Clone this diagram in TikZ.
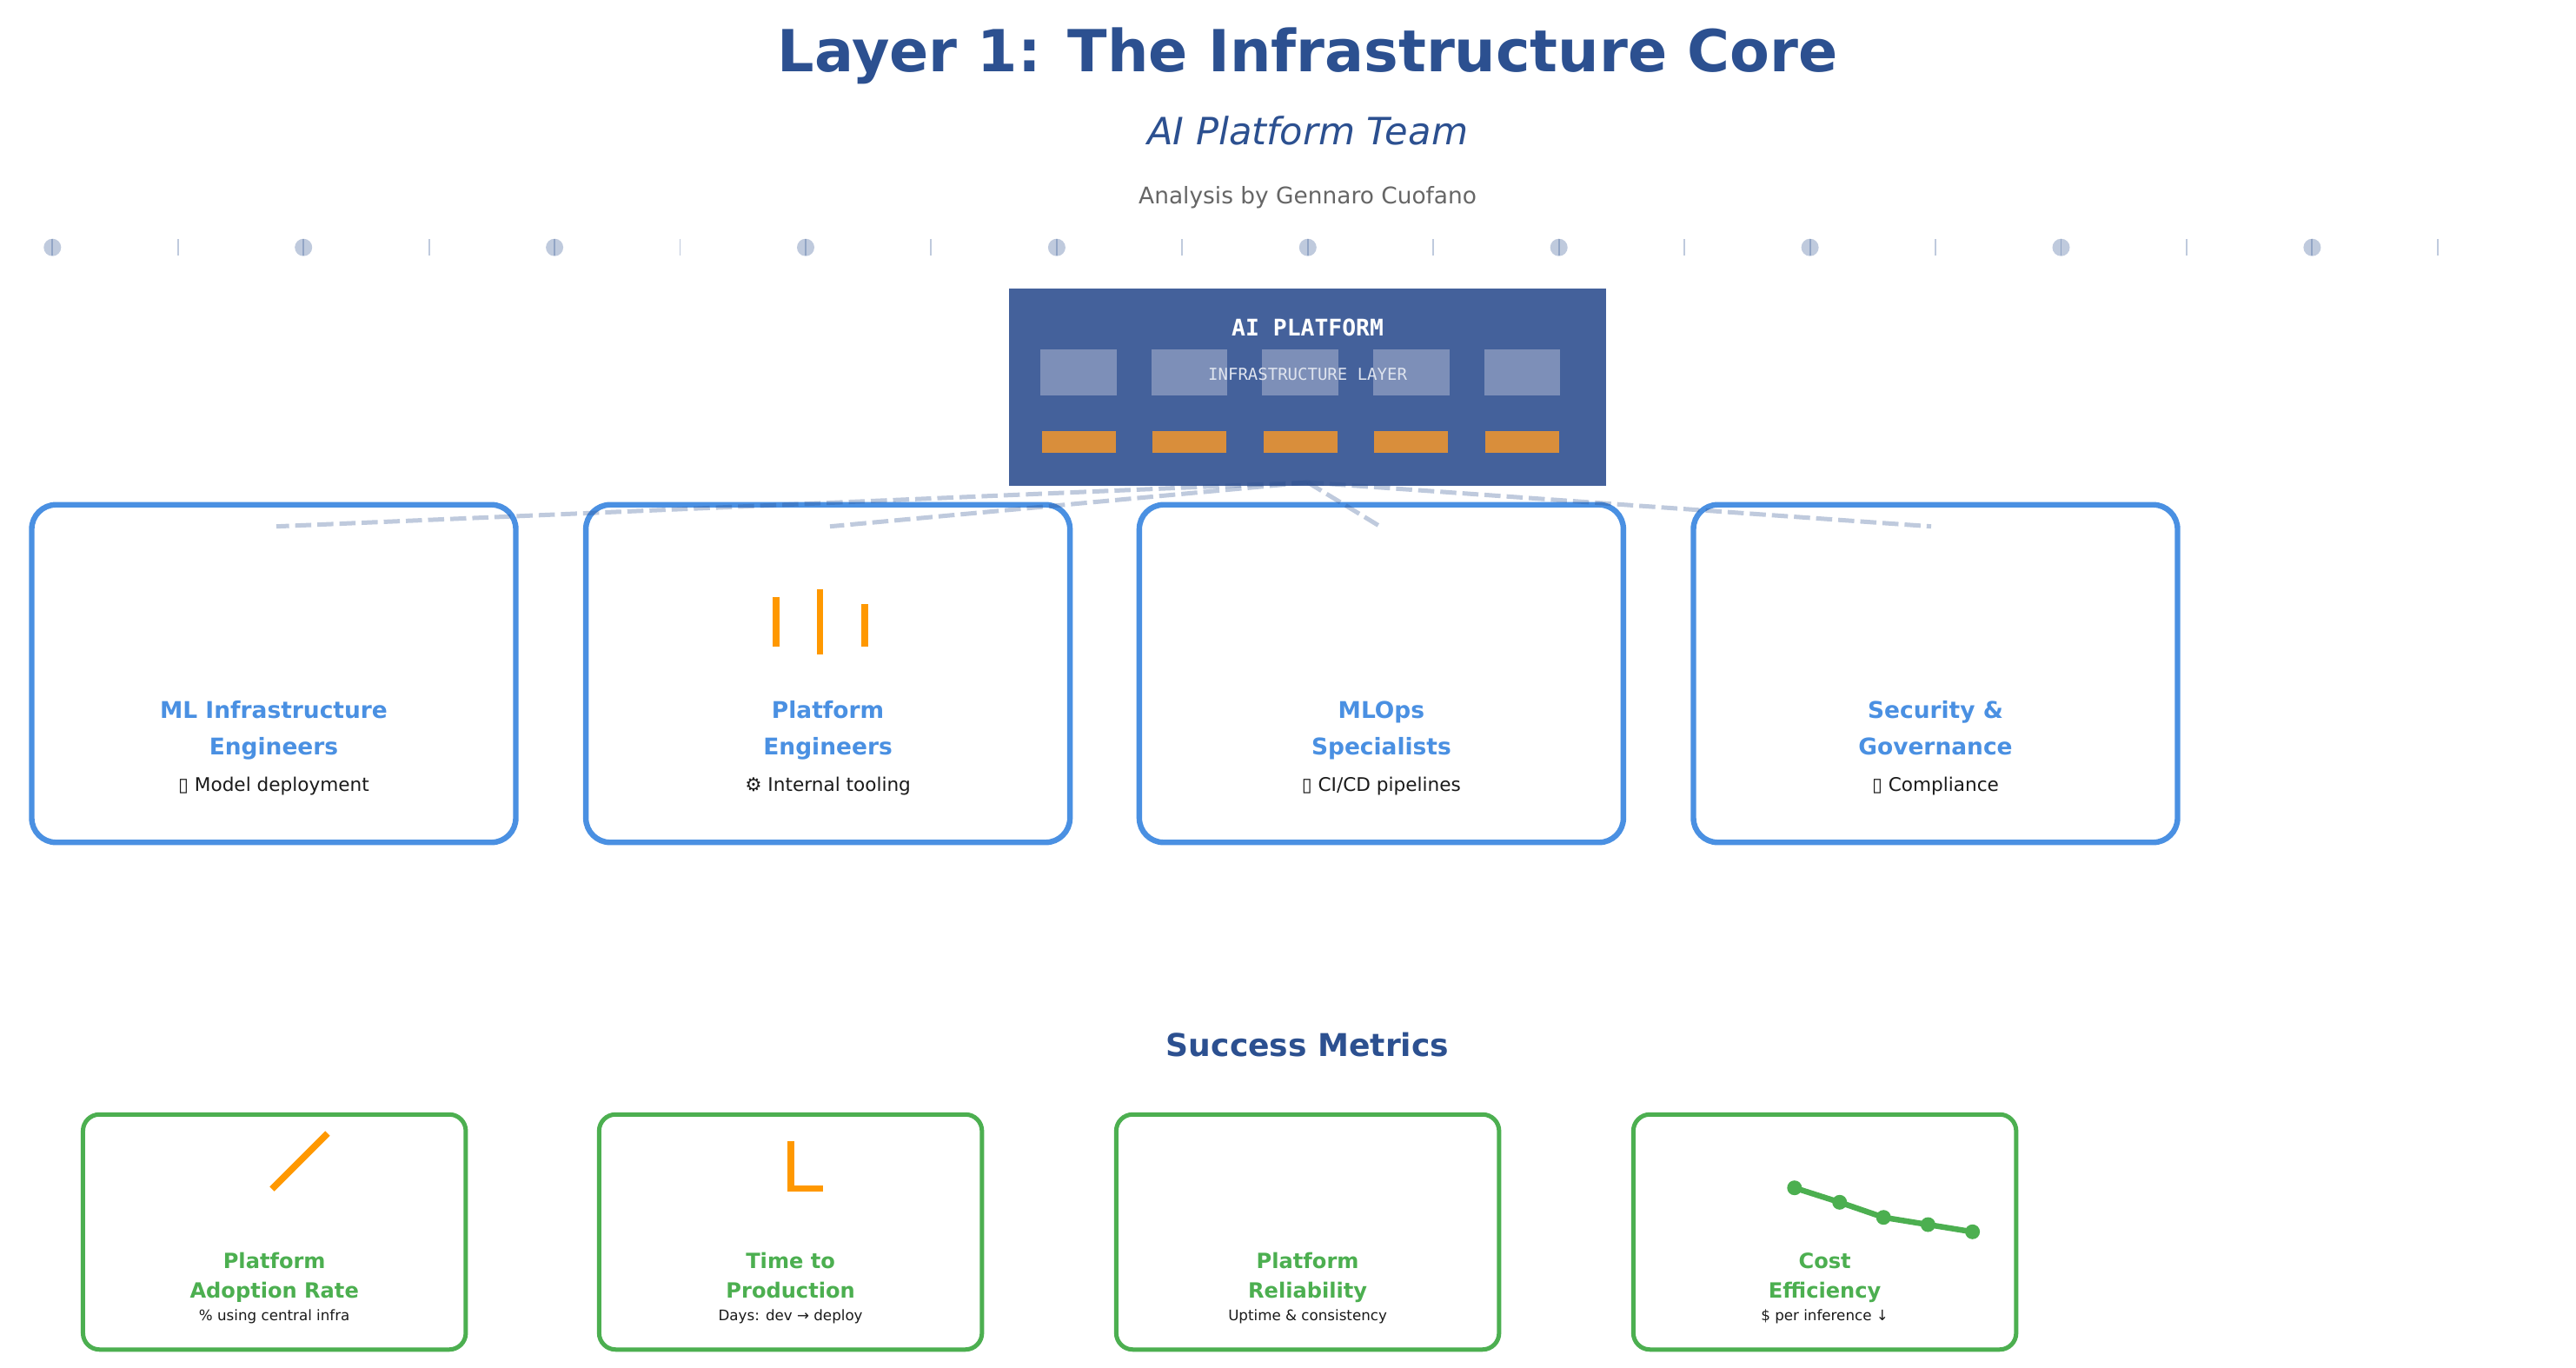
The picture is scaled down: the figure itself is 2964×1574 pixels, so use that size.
\documentclass[tikz,border=0pt]{standalone}
\usepackage{fontspec}
\setmainfont{DejaVu Sans}
\newfontfamily\dvmono{DejaVu Sans Mono}
\definecolor{navy}{HTML}{2C5090}
\definecolor{platblue}{HTML}{44619B}
\definecolor{slotblue}{HTML}{7D8FB8}
\definecolor{slotorange}{HTML}{D98E3B}
\definecolor{cardblue}{HTML}{4A90E2}
\definecolor{cardgreen}{HTML}{4CAF50}
\definecolor{accent}{HTML}{FF9800}
\definecolor{greytext}{HTML}{666666}
\definecolor{inktext}{HTML}{1A1A1A}
\definecolor{subwhite}{HTML}{DFE4EF}
\newcommand{\fs}[1]{\fontsize{#1pt}{#1pt}\selectfont}
\tikzset{
  x=1pt,y=-1pt,
  lbl/.style={anchor=base,inner sep=0pt,outer sep=0pt},
  rolecard/.style={draw=cardblue,line width=6.4pt,fill=white,rounded corners=28pt,minimum width=557pt,minimum height=388.5pt,inner sep=0pt,outer sep=0pt},
  metriccard/.style={draw=cardgreen,line width=5pt,fill=white,rounded corners=19pt,minimum width=440.5pt,minimum height=270.5pt,inner sep=0pt,outer sep=0pt},
  roletitle/.style={lbl,text=cardblue,font=\fs{26.45}\bfseries},
  rolesub/.style={lbl,text=inktext,font=\fs{21.6}},
  metrictitle/.style={lbl,text=cardgreen,font=\fs{24.1}\bfseries},
  metricsub/.style={lbl,text=inktext,font=\fs{16.7}},
  slot/.style={fill=slotblue,minimum width=87.5pt,minimum height=53pt,inner sep=0pt,outer sep=0pt},
  slotbar/.style={fill=slotorange,minimum width=85pt,minimum height=25.3pt,inner sep=0pt,outer sep=0pt},
  wire/.style={draw=navy,draw opacity=.3,line width=5pt,dash pattern=on 18.5pt off 7pt},
  patdot/.style={circle,fill=navy,fill opacity=.3,minimum size=20pt,inner sep=0pt,outer sep=0pt},
  patline/.style={draw=navy,draw opacity=.3,line width=1.9pt},
  glyphline/.style={draw=accent,line width=7.5pt},
  chartline/.style={draw=cardgreen,line width=6.5pt},
  chartdot/.style={circle,fill=cardgreen,minimum size=17pt,inner sep=0pt,outer sep=0pt}
}
\begin{document}
\begin{tikzpicture}
\useasboundingbox[fill=white] (0,0) rectangle (2964,1574);

% header
\node[lbl,text=navy,font=\fs{66.7}\bfseries] (title) at (1504.6,82) {Layer 1: The Infrastructure Core};
\node[lbl,text=navy,font=\fs{43.2}\itshape] (subtitle) at (1504.6,166) {AI Platform Team};
\node[lbl,text=greytext,font=\fs{26.4}] (byline) at (1504.6,234) {Analysis by Gennaro Cuofano};

% dotted pattern strip
\foreach \i in {0,...,9}{
  \node[patdot] (dot\i) at ({60.3+288.9*\i},284.7) {};
  \coordinate (dt\i) at ({60.3+288.9*\i},275);
  \coordinate (db\i) at ({60.3+288.9*\i},294.4);
  \draw[patline] (dt\i) -- (db\i);
  \coordinate (tt\i) at ({204.7+288.9*\i},275);
  \coordinate (tb\i) at ({204.7+288.9*\i},294.4);
  \draw[patline] (tt\i) -- (tb\i);
}

% role cards
\node[rolecard] (card1) at (315,775) {};
\node[rolecard] (card2) at (952.6,775) {};
\node[rolecard] (card3) at (1589.4,775) {};
\node[rolecard] (card4) at (2227,775) {};

% platform block
\node[fill=platblue,minimum width=687pt,minimum height=227pt,inner sep=0pt,outer sep=0pt] (platform) at (1504.6,445.2) {};
\foreach \i in {0,...,4}{
  \node[slot] (slot\i) at ({1241+127.6*\i},428.2) {};
  \node[slotbar] (bar\i) at ({1241+127.6*\i},508.7) {};
}
\node[lbl,text=white,font=\dvmono\fs{26.4}\bfseries] (plattitle) at (1504.6,386) {AI PLATFORM};
\node[lbl,text=subwhite,font=\dvmono\fs{19}] (platsub) at (1504.6,437) {INFRASTRUCTURE LAYER};

% connectors
\coordinate (hub) at (1504.6,555);
\coordinate (end1) at (318,605.7);
\coordinate (end2) at (955,605.7);
\coordinate (end3) at (1586,604.5);
\coordinate (end4) at (2222,605.7);
\draw[wire] (hub) -- (end1);
\draw[wire] (hub) -- (end2);
\draw[wire] (hub) -- (end3);
\draw[wire] (hub) -- (end4);

% glyph in card 2
\coordinate (ba) at (893,686.7);  \coordinate (bb) at (893,744);
\coordinate (bc) at (943.6,678);  \coordinate (bd) at (943.6,753);
\coordinate (be) at (995,695);    \coordinate (bf) at (995,744);
\draw[glyphline] (ba) -- (bb);
\draw[glyphline] (bc) -- (bd);
\draw[glyphline] (be) -- (bf);

% role texts
\node[roletitle] (r1a) at (315,826) {ML Infrastructure};
\node[roletitle] (r1b) at (315,868) {Engineers};
\node[rolesub] (r1c) at (315,910.7) {▯ Model deployment};
\node[roletitle] (r2a) at (952.6,826) {Platform};
\node[roletitle] (r2b) at (952.6,868) {Engineers};
\node[rolesub] (r2c) at (952.6,910.7) {⚙ Internal tooling};
\node[roletitle] (r3a) at (1589.4,826) {MLOps};
\node[roletitle] (r3b) at (1589.4,868) {Specialists};
\node[rolesub] (r3c) at (1589.4,910.7) {▯ CI/CD pipelines};
\node[roletitle] (r4a) at (2227,826) {Security \&};
\node[roletitle] (r4b) at (2227,868) {Governance};
\node[rolesub] (r4c) at (2227,910.7) {▯ Compliance};

% metrics
\node[lbl,text=navy,font=\fs{36.1}\bfseries] (metrics) at (1504.6,1215.5) {Success Metrics};
\node[metriccard] (m1) at (315.7,1417.5) {};
\node[metriccard] (m2) at (909.6,1417.5) {};
\node[metriccard] (m3) at (1504.6,1417.5) {};
\node[metriccard] (m4) at (2099.6,1417.5) {};

\coordinate (ga) at (313,1368); \coordinate (gb) at (377,1304);
\draw[glyphline] (ga) -- (gb);
\coordinate (la) at (910,1312.7); \coordinate (lb) at (910,1367.7); \coordinate (lc) at (947,1367.7);
\draw[glyphline] (la) -- (lb) -- (lc);

\node[chartdot] (p1) at (2064.8,1366.7) {};
\node[chartdot] (p2) at (2116.7,1383.3) {};
\node[chartdot] (p3) at (2167.2,1400.7) {};
\node[chartdot] (p4) at (2218.4,1409) {};
\node[chartdot] (p5) at (2269.6,1417.3) {};
\draw[chartline] (p1.center) -- (p2.center) -- (p3.center) -- (p4.center) -- (p5.center);

\node[metrictitle] (m1a) at (315.7,1459.5) {Platform};
\node[metrictitle] (m1b) at (315.7,1493.5) {Adoption Rate};
\node[metricsub] (m1c) at (315.7,1519) {\% using central infra};
\node[metrictitle] (m2a) at (909.6,1459.5) {Time to};
\node[metrictitle] (m2b) at (909.6,1493.5) {Production};
\node[metricsub] (m2c) at (909.6,1519) {Days: dev → deploy};
\node[metrictitle] (m3a) at (1504.6,1459.5) {Platform};
\node[metrictitle] (m3b) at (1504.6,1493.5) {Reliability};
\node[metricsub] (m3c) at (1504.6,1519) {Uptime \& consistency};
\node[metrictitle] (m4a) at (2099.6,1459.5) {Cost};
\node[metrictitle] (m4b) at (2099.6,1493.5) {Efficiency};
\node[metricsub] (m4c) at (2099.6,1519) {\$ per inference ↓};
\end{tikzpicture}
\end{document}
